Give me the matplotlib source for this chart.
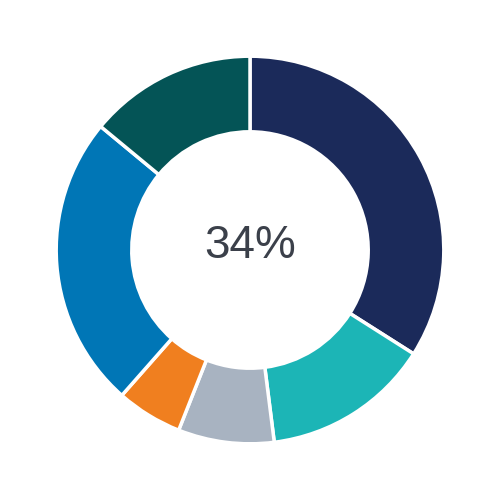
import matplotlib
matplotlib.use("Agg")
import matplotlib.pyplot as plt

# slice shares, clockwise from 12 o'clock
labels = ["Navy", "Teal", "Gray", "Orange", "Blue", "Dark green"]
values = [34, 14, 8, 5.5, 24.5, 14]
colors = ["#1b2a5a", "#1cb5b6", "#a8b3c1", "#f07f1f", "#0076b6", "#045456"]
center_label = "34%"

fig = plt.figure(figsize=(5, 5), dpi=100)
ax = fig.add_axes([0, 0, 1, 1])

ax.pie(values, colors=colors, startangle=90, counterclock=False,
       radius=1.0,
       wedgeprops=dict(width=0.39, edgecolor="white", linewidth=2.5))

ax.text(0, 0.02, center_label, ha="center", va="center",
        fontsize=33, color="#3b404a", family=["Liberation Sans", "DejaVu Sans"])

ax.set_xlim(-1.29, 1.29)
ax.set_ylim(-1.29, 1.29)
ax.set_aspect("equal")
ax.axis("off")

fig.savefig("out.png", dpi=100, facecolor="white")
